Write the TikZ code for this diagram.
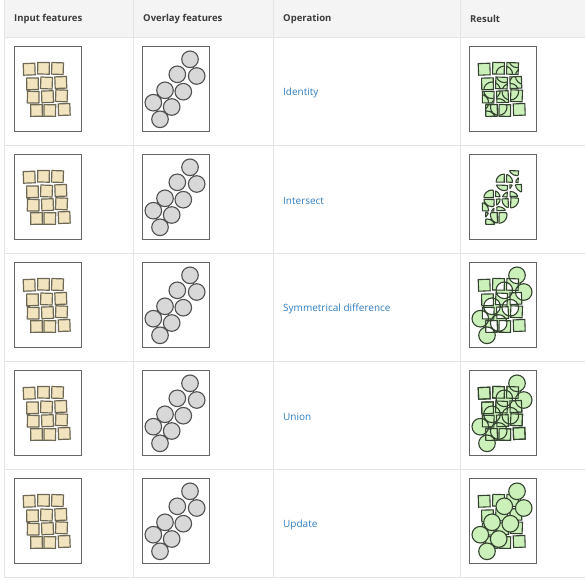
\documentclass[tikz,border=0pt]{standalone}
\usepackage{fontspec}
\setmainfont{Open Sans}
\definecolor{headbg}{HTML}{F4F4F4}
\definecolor{gridline}{HTML}{E4E4E4}
\definecolor{headtxt}{HTML}{3C3C3C}
\definecolor{linktxt}{HTML}{2F7DBF}
\definecolor{paneedge}{HTML}{666666}
\definecolor{beigefill}{HTML}{F1E4BF}
\definecolor{beigeedge}{HTML}{6E6955}
\definecolor{discfill}{HTML}{D8D8D8}
\definecolor{discedge}{HTML}{505050}
\definecolor{resfill}{HTML}{CBF0BA}
\definecolor{resedge}{HTML}{34432F}
\tikzset{
 panebox/.style={draw=paneedge,line width=0.9pt},
 tilesq/.style={fill=beigefill,draw=beigeedge,line width=1.2pt},
 discov/.style={fill=discfill,draw=discedge,line width=1.1pt},
 resarea/.style={fill=resfill,draw=resedge,line width=1.1pt},
 resrim/.style={draw=resedge,line width=1.1pt},
 headtext/.style={anchor=west,inner sep=0pt,text=headtxt,font=\fontsize{9.5}{11}\selectfont\bfseries},
 optext/.style={anchor=west,inner sep=0pt,text=linktxt,font=\fontsize{10}{12}\selectfont},
}
\newcommand{\tilepath}{% 12 squares, x y angle
foreach \cx/\cy/\ang in {15.2/23.2/-2, 29.5/22.3/1, 43.5/22.5/2,
 18.5/37.8/-1, 32.5/37/2, 46.8/36.5/-2,
 19.2/51.2/1, 33.5/50.7/-2, 47.5/49.8/2,
 22.5/64.5/-1, 35.8/64.5/1, 50.2/63.5/-2}
{([shift={(\ang+45:8.2)}]\cx,\cy) -- ++(\ang+180:11.6) -- ++(\ang+270:11.6) -- ++(\ang:11.6) -- cycle}}
\newcommand{\discpath}{% 8 circles
foreach \cx/\cy in {48/13.3, 35.3/28.3, 54.7/30, 23/44.3, 41.3/45.7, 11.3/56.7, 29.7/61, 18/73.3}
{(\cx,\cy) circle[radius=8.3]}}
\newcommand{\inputpane}[2]{% x y
\begin{scope}[shift={(#1,#2)}]
\draw[panebox] (0,0) rectangle (67,85);
\path[tilesq] \tilepath;
\end{scope}}
\newcommand{\overlaypane}[2]{% x y
\begin{scope}[shift={(#1,#2)}]
\draw[panebox] (0,0) rectangle (67,85);
\path[discov] \discpath;
\end{scope}}
\newcommand{\resid}[2]{% identity
\begin{scope}[shift={(#1,#2)}]
\draw[panebox] (0,0) rectangle (67,85);
\path[resarea] \tilepath;
\begin{scope}\clip \tilepath; \path[resrim] \discpath; \end{scope}
\end{scope}}
\newcommand{\resisect}[2]{% intersect
\begin{scope}[shift={(#1,#2)}]
\draw[panebox] (0,0) rectangle (67,85);
\begin{scope}\clip \discpath; \path[resarea] \tilepath; \end{scope}
\begin{scope}\clip \tilepath; \path[resrim] \discpath; \end{scope}
\end{scope}}
\newcommand{\ressym}[2]{% symmetrical difference
\begin{scope}[shift={(#1,#2)}]
\draw[panebox] (0,0) rectangle (67,85);
\path[resarea,even odd rule] \tilepath \discpath;
\end{scope}}
\newcommand{\resunion}[2]{% union
\begin{scope}[shift={(#1,#2)}]
\draw[panebox] (0,0) rectangle (67,85);
\path[resarea] \tilepath;
\path[resarea] \discpath;
\path[resrim] \tilepath;
\end{scope}}
\newcommand{\resupdate}[2]{% update
\begin{scope}[shift={(#1,#2)}]
\draw[panebox] (0,0) rectangle (67,85);
\path[resarea] \tilepath;
\path[resarea] \discpath;
\end{scope}}
\begin{document}
\begin{tikzpicture}[x=1pt,y=-1pt]
\useasboundingbox (0,0) rectangle (585,580);
\fill[headbg] (4,0) rectangle (585,37);
\foreach \y in {37,145,253,361,469,577} \draw[gridline] (4,\y)--(585,\y);
\foreach \x in {4,133,273,460} \draw[gridline] (\x,0)--(\x,577);

\node[headtext] (hin) at (14,19) {Input features};
\node[headtext] (hov) at (143,19) {Overlay features};
\node[headtext] (hop) at (283,19) {Operation};
\node[headtext] (hres) at (470,19) {Result};

\foreach \top/\op [count=\i] in {37/Identity, 145/Intersect, 253/Symmetrical difference, 361/Union, 469/Update}{
 \inputpane{14}{\top+9}
 \overlaypane{142}{\top+9}
 \node[optext] (op\i) at (283,\top+55.5) {\op};
}

\resid{469}{46}
\resisect{469}{154}
\ressym{469}{262}
\resunion{469}{370}
\resupdate{469}{478}
\end{tikzpicture}
\end{document}
